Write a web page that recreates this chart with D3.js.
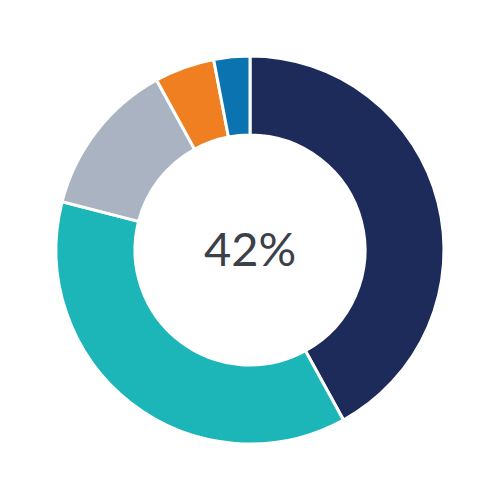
<!DOCTYPE html>
<meta charset="utf-8">
<style>
body { margin: 0; background: #fff; }
.centerLabel {
  font-family: Lato, sans-serif;
  font-weight: 400;
  font-size: 47px;
  fill: #3b4049;
}
</style>
<svg width="500" height="500"></svg>
<script src="https://cdn.jsdelivr.net/npm/d3@7/dist/d3.min.js"></script>
<script>

//slice values (percent), clockwise from 12 o'clock
const categories = ["A", "B", "C", "D", "E"];
const values = [42, 37, 13, 5, 3];
const colors = ["#1c2b5a", "#1cb5b8", "#a9b3c1", "#f07f22", "#0a73b0"];
const centerText = "42%";

const svg = d3.select("svg");

const g = svg.append("g")
    .attr("transform", "translate(250, 250)");

const pie = d3.pie()
    .sort(null)
    .value(d => d);

const arc = d3.arc()
    .innerRadius(115)
    .outerRadius(194);

g.selectAll(".slice")
    .data(pie(values))
    .enter().append("path")
    .attr("class", "slice")
    .attr("d", arc)
    .attr("fill", (d, i) => colors[i])
    .attr("stroke", "#fff")
    .attr("stroke-width", 3);

g.append("text")
    .attr("class", "centerLabel")
    .attr("text-anchor", "middle")
    .attr("dy", "0.35em")
    .text(centerText);

</script>
